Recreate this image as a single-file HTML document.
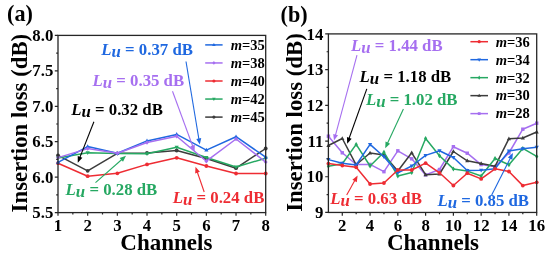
<!DOCTYPE html><html><head><meta charset="utf-8"><style>html,body{margin:0;padding:0;background:#fff;width:550px;height:257px;overflow:hidden}svg{display:block}text{font-family:"Liberation Serif","Times New Roman",serif;font-weight:bold}.t{font-size:16.8px}.lab{font-size:23px}.ylab{font-size:22.8px}.pl{font-size:22.2px}.an{font-size:16.8px}.lg{font-size:14.5px}.it{font-style:italic}</style></head><body>
<svg width="550" height="257" viewBox="0 0 550 257">
<rect width="550" height="257" fill="#fff"/>
<polyline points="58.00,155.30 87.67,170.80 117.34,153.30 147.01,153.00 176.69,150.50 206.36,158.50 236.03,168.20 265.70,148.50" fill="none" stroke="#3c3c3c" stroke-width="1.5" stroke-linejoin="round"/>
<circle cx="58.00" cy="155.30" r="1.90" fill="#3c3c3c"/>
<circle cx="87.67" cy="170.80" r="1.90" fill="#3c3c3c"/>
<circle cx="117.34" cy="153.30" r="1.90" fill="#3c3c3c"/>
<circle cx="147.01" cy="153.00" r="1.90" fill="#3c3c3c"/>
<circle cx="176.69" cy="150.50" r="1.90" fill="#3c3c3c"/>
<circle cx="206.36" cy="158.50" r="1.90" fill="#3c3c3c"/>
<circle cx="236.03" cy="168.20" r="1.90" fill="#3c3c3c"/>
<circle cx="265.70" cy="148.50" r="1.90" fill="#3c3c3c"/>
<polyline points="58.00,158.00 87.67,152.80 117.34,153.50 147.01,153.80 176.69,147.30 206.36,157.50 236.03,167.00 265.70,158.20" fill="none" stroke="#26a862" stroke-width="1.5" stroke-linejoin="round"/>
<path d="M58.00 160.30L60.10 156.50L55.90 156.50Z" fill="#26a862"/>
<path d="M87.67 155.10L89.77 151.30L85.57 151.30Z" fill="#26a862"/>
<path d="M117.34 155.80L119.44 152.00L115.24 152.00Z" fill="#26a862"/>
<path d="M147.01 156.10L149.11 152.30L144.91 152.30Z" fill="#26a862"/>
<path d="M176.69 149.60L178.79 145.80L174.59 145.80Z" fill="#26a862"/>
<path d="M206.36 159.80L208.46 156.00L204.26 156.00Z" fill="#26a862"/>
<path d="M236.03 169.30L238.13 165.50L233.93 165.50Z" fill="#26a862"/>
<path d="M265.70 160.50L267.80 156.70L263.60 156.70Z" fill="#26a862"/>
<polyline points="58.00,163.20 87.67,176.20 117.34,173.30 147.01,164.40 176.69,157.80 206.36,166.00 236.03,173.50 265.70,173.50" fill="none" stroke="#ee2c33" stroke-width="1.5" stroke-linejoin="round"/>
<circle cx="58.00" cy="163.20" r="1.90" fill="#ee2c33"/>
<circle cx="87.67" cy="176.20" r="1.90" fill="#ee2c33"/>
<circle cx="117.34" cy="173.30" r="1.90" fill="#ee2c33"/>
<circle cx="147.01" cy="164.40" r="1.90" fill="#ee2c33"/>
<circle cx="176.69" cy="157.80" r="1.90" fill="#ee2c33"/>
<circle cx="206.36" cy="166.00" r="1.90" fill="#ee2c33"/>
<circle cx="236.03" cy="173.50" r="1.90" fill="#ee2c33"/>
<circle cx="265.70" cy="173.50" r="1.90" fill="#ee2c33"/>
<polyline points="58.00,162.30 87.67,146.60 117.34,153.30 147.01,140.90 176.69,134.40 206.36,150.10 236.03,136.70 265.70,157.20" fill="none" stroke="#1f68e0" stroke-width="1.5" stroke-linejoin="round"/>
<path d="M58.00 160.00L60.10 163.80L55.90 163.80Z" fill="#1f68e0"/>
<path d="M87.67 144.30L89.77 148.10L85.57 148.10Z" fill="#1f68e0"/>
<path d="M117.34 151.00L119.44 154.80L115.24 154.80Z" fill="#1f68e0"/>
<path d="M147.01 138.60L149.11 142.40L144.91 142.40Z" fill="#1f68e0"/>
<path d="M176.69 132.10L178.79 135.90L174.59 135.90Z" fill="#1f68e0"/>
<path d="M206.36 147.80L208.46 151.60L204.26 151.60Z" fill="#1f68e0"/>
<path d="M236.03 134.40L238.13 138.20L233.93 138.20Z" fill="#1f68e0"/>
<path d="M265.70 154.90L267.80 158.70L263.60 158.70Z" fill="#1f68e0"/>
<polyline points="58.00,157.60 87.67,148.60 117.34,153.30 147.01,142.50 176.69,136.30 206.36,161.20 236.03,139.00 265.70,162.10" fill="none" stroke="#a66ff0" stroke-width="1.5" stroke-linejoin="round"/>
<path d="M58.00 155.40L59.90 157.60L58.00 159.80L56.10 157.60Z" fill="#a66ff0"/>
<path d="M87.67 146.40L89.57 148.60L87.67 150.80L85.77 148.60Z" fill="#a66ff0"/>
<path d="M117.34 151.10L119.24 153.30L117.34 155.50L115.44 153.30Z" fill="#a66ff0"/>
<path d="M147.01 140.30L148.91 142.50L147.01 144.70L145.11 142.50Z" fill="#a66ff0"/>
<path d="M176.69 134.10L178.59 136.30L176.69 138.50L174.79 136.30Z" fill="#a66ff0"/>
<path d="M206.36 159.00L208.26 161.20L206.36 163.40L204.46 161.20Z" fill="#a66ff0"/>
<path d="M236.03 136.80L237.93 139.00L236.03 141.20L234.13 139.00Z" fill="#a66ff0"/>
<path d="M265.70 159.90L267.60 162.10L265.70 164.30L263.80 162.10Z" fill="#a66ff0"/>
<rect x="58.0" y="35.4" width="207.70" height="177.20" fill="none" stroke="#262626" stroke-width="1.3"/>
<path d="M58.00 212.6v3.2M87.67 212.6v3.2M117.34 212.6v3.2M147.01 212.6v3.2M176.69 212.6v3.2M206.36 212.6v3.2M236.03 212.6v3.2M265.70 212.6v3.2M72.84 212.6v1.8M102.51 212.6v1.8M132.18 212.6v1.8M161.85 212.6v1.8M191.52 212.6v1.8M221.19 212.6v1.8M250.86 212.6v1.8M58.0 35.40h-3.2M58.0 70.84h-3.2M58.0 106.28h-3.2M58.0 141.72h-3.2M58.0 177.16h-3.2M58.0 212.60h-3.2M58.0 53.12h-1.8M58.0 88.56h-1.8M58.0 124.00h-1.8M58.0 159.44h-1.8M58.0 194.88h-1.8" stroke="#262626" stroke-width="1.2" fill="none"/>
<polyline points="328.40,136.20 342.29,152.80 356.17,164.50 370.06,164.40 383.95,171.70 397.83,150.80 411.72,158.80 425.61,174.90 439.49,169.50 453.38,146.70 467.27,153.20 481.15,164.60 495.04,166.80 508.93,153.00 522.81,129.20 536.70,123.20" fill="none" stroke="#a66ff0" stroke-width="1.5" stroke-linejoin="round"/>
<rect x="326.70" y="134.50" width="3.40" height="3.40" fill="#a66ff0"/>
<rect x="340.59" y="151.10" width="3.40" height="3.40" fill="#a66ff0"/>
<rect x="354.47" y="162.80" width="3.40" height="3.40" fill="#a66ff0"/>
<rect x="368.36" y="162.70" width="3.40" height="3.40" fill="#a66ff0"/>
<rect x="382.25" y="170.00" width="3.40" height="3.40" fill="#a66ff0"/>
<rect x="396.13" y="149.10" width="3.40" height="3.40" fill="#a66ff0"/>
<rect x="410.02" y="157.10" width="3.40" height="3.40" fill="#a66ff0"/>
<rect x="423.91" y="173.20" width="3.40" height="3.40" fill="#a66ff0"/>
<rect x="437.79" y="167.80" width="3.40" height="3.40" fill="#a66ff0"/>
<rect x="451.68" y="145.00" width="3.40" height="3.40" fill="#a66ff0"/>
<rect x="465.57" y="151.50" width="3.40" height="3.40" fill="#a66ff0"/>
<rect x="479.45" y="162.90" width="3.40" height="3.40" fill="#a66ff0"/>
<rect x="493.34" y="165.10" width="3.40" height="3.40" fill="#a66ff0"/>
<rect x="507.23" y="151.30" width="3.40" height="3.40" fill="#a66ff0"/>
<rect x="521.11" y="127.50" width="3.40" height="3.40" fill="#a66ff0"/>
<rect x="535.00" y="121.50" width="3.40" height="3.40" fill="#a66ff0"/>
<polyline points="328.40,145.50 342.29,138.50 356.17,164.80 370.06,153.00 383.95,155.00 397.83,171.00 411.72,152.80 425.61,174.70 439.49,174.00 453.38,151.50 467.27,160.80 481.15,163.60 495.04,166.30 508.93,138.70 522.81,138.00 536.70,132.00" fill="none" stroke="#3c3c3c" stroke-width="1.5" stroke-linejoin="round"/>
<path d="M328.40 143.20L330.50 147.00L326.30 147.00Z" fill="#3c3c3c"/>
<path d="M342.29 136.20L344.39 140.00L340.19 140.00Z" fill="#3c3c3c"/>
<path d="M356.17 162.50L358.27 166.30L354.07 166.30Z" fill="#3c3c3c"/>
<path d="M370.06 150.70L372.16 154.50L367.96 154.50Z" fill="#3c3c3c"/>
<path d="M383.95 152.70L386.05 156.50L381.85 156.50Z" fill="#3c3c3c"/>
<path d="M397.83 168.70L399.93 172.50L395.73 172.50Z" fill="#3c3c3c"/>
<path d="M411.72 150.50L413.82 154.30L409.62 154.30Z" fill="#3c3c3c"/>
<path d="M425.61 172.40L427.71 176.20L423.51 176.20Z" fill="#3c3c3c"/>
<path d="M439.49 171.70L441.59 175.50L437.39 175.50Z" fill="#3c3c3c"/>
<path d="M453.38 149.20L455.48 153.00L451.28 153.00Z" fill="#3c3c3c"/>
<path d="M467.27 158.50L469.37 162.30L465.17 162.30Z" fill="#3c3c3c"/>
<path d="M481.15 161.30L483.25 165.10L479.05 165.10Z" fill="#3c3c3c"/>
<path d="M495.04 164.00L497.14 167.80L492.94 167.80Z" fill="#3c3c3c"/>
<path d="M508.93 136.40L511.03 140.20L506.83 140.20Z" fill="#3c3c3c"/>
<path d="M522.81 135.70L524.91 139.50L520.71 139.50Z" fill="#3c3c3c"/>
<path d="M536.70 129.70L538.80 133.50L534.60 133.50Z" fill="#3c3c3c"/>
<polyline points="328.40,166.20 342.29,163.80 356.17,144.40 370.06,166.00 383.95,152.20 397.83,176.00 411.72,172.50 425.61,138.50 439.49,155.80 453.38,168.90 467.27,171.10 481.15,176.00 495.04,158.50 508.93,164.80 522.81,148.40 536.70,156.40" fill="none" stroke="#26a862" stroke-width="1.5" stroke-linejoin="round"/>
<path d="M328.40 163.70L330.00 166.20L328.40 168.70L326.80 166.20Z" fill="#26a862"/>
<path d="M342.29 161.30L343.89 163.80L342.29 166.30L340.69 163.80Z" fill="#26a862"/>
<path d="M356.17 141.90L357.77 144.40L356.17 146.90L354.57 144.40Z" fill="#26a862"/>
<path d="M370.06 163.50L371.66 166.00L370.06 168.50L368.46 166.00Z" fill="#26a862"/>
<path d="M383.95 149.70L385.55 152.20L383.95 154.70L382.35 152.20Z" fill="#26a862"/>
<path d="M397.83 173.50L399.43 176.00L397.83 178.50L396.23 176.00Z" fill="#26a862"/>
<path d="M411.72 170.00L413.32 172.50L411.72 175.00L410.12 172.50Z" fill="#26a862"/>
<path d="M425.61 136.00L427.21 138.50L425.61 141.00L424.01 138.50Z" fill="#26a862"/>
<path d="M439.49 153.30L441.09 155.80L439.49 158.30L437.89 155.80Z" fill="#26a862"/>
<path d="M453.38 166.40L454.98 168.90L453.38 171.40L451.78 168.90Z" fill="#26a862"/>
<path d="M467.27 168.60L468.87 171.10L467.27 173.60L465.67 171.10Z" fill="#26a862"/>
<path d="M481.15 173.50L482.75 176.00L481.15 178.50L479.55 176.00Z" fill="#26a862"/>
<path d="M495.04 156.00L496.64 158.50L495.04 161.00L493.44 158.50Z" fill="#26a862"/>
<path d="M508.93 162.30L510.53 164.80L508.93 167.30L507.33 164.80Z" fill="#26a862"/>
<path d="M522.81 145.90L524.41 148.40L522.81 150.90L521.21 148.40Z" fill="#26a862"/>
<path d="M536.70 153.90L538.30 156.40L536.70 158.90L535.10 156.40Z" fill="#26a862"/>
<polyline points="328.40,159.60 342.29,163.30 356.17,165.00 370.06,144.40 383.95,156.80 397.83,172.80 411.72,166.00 425.61,155.40 439.49,150.80 453.38,157.50 467.27,170.50 481.15,170.20 495.04,168.80 508.93,151.00 522.81,148.70 536.70,147.30" fill="none" stroke="#1f68e0" stroke-width="1.5" stroke-linejoin="round"/>
<path d="M328.40 161.90L330.50 158.10L326.30 158.10Z" fill="#1f68e0"/>
<path d="M342.29 165.60L344.39 161.80L340.19 161.80Z" fill="#1f68e0"/>
<path d="M356.17 167.30L358.27 163.50L354.07 163.50Z" fill="#1f68e0"/>
<path d="M370.06 146.70L372.16 142.90L367.96 142.90Z" fill="#1f68e0"/>
<path d="M383.95 159.10L386.05 155.30L381.85 155.30Z" fill="#1f68e0"/>
<path d="M397.83 175.10L399.93 171.30L395.73 171.30Z" fill="#1f68e0"/>
<path d="M411.72 168.30L413.82 164.50L409.62 164.50Z" fill="#1f68e0"/>
<path d="M425.61 157.70L427.71 153.90L423.51 153.90Z" fill="#1f68e0"/>
<path d="M439.49 153.10L441.59 149.30L437.39 149.30Z" fill="#1f68e0"/>
<path d="M453.38 159.80L455.48 156.00L451.28 156.00Z" fill="#1f68e0"/>
<path d="M467.27 172.80L469.37 169.00L465.17 169.00Z" fill="#1f68e0"/>
<path d="M481.15 172.50L483.25 168.70L479.05 168.70Z" fill="#1f68e0"/>
<path d="M495.04 171.10L497.14 167.30L492.94 167.30Z" fill="#1f68e0"/>
<path d="M508.93 153.30L511.03 149.50L506.83 149.50Z" fill="#1f68e0"/>
<path d="M522.81 151.00L524.91 147.20L520.71 147.20Z" fill="#1f68e0"/>
<path d="M536.70 149.60L538.80 145.80L534.60 145.80Z" fill="#1f68e0"/>
<polyline points="328.40,163.60 342.29,165.50 356.17,167.30 370.06,184.00 383.95,183.00 397.83,170.00 411.72,170.00 425.61,163.20 439.49,172.80 453.38,185.50 467.27,173.20 481.15,178.90 495.04,168.80 508.93,171.50 522.81,185.60 536.70,182.30" fill="none" stroke="#ee2c33" stroke-width="1.5" stroke-linejoin="round"/>
<circle cx="328.40" cy="163.60" r="1.90" fill="#ee2c33"/>
<circle cx="342.29" cy="165.50" r="1.90" fill="#ee2c33"/>
<circle cx="356.17" cy="167.30" r="1.90" fill="#ee2c33"/>
<circle cx="370.06" cy="184.00" r="1.90" fill="#ee2c33"/>
<circle cx="383.95" cy="183.00" r="1.90" fill="#ee2c33"/>
<circle cx="397.83" cy="170.00" r="1.90" fill="#ee2c33"/>
<circle cx="411.72" cy="170.00" r="1.90" fill="#ee2c33"/>
<circle cx="425.61" cy="163.20" r="1.90" fill="#ee2c33"/>
<circle cx="439.49" cy="172.80" r="1.90" fill="#ee2c33"/>
<circle cx="453.38" cy="185.50" r="1.90" fill="#ee2c33"/>
<circle cx="467.27" cy="173.20" r="1.90" fill="#ee2c33"/>
<circle cx="481.15" cy="178.90" r="1.90" fill="#ee2c33"/>
<circle cx="495.04" cy="168.80" r="1.90" fill="#ee2c33"/>
<circle cx="508.93" cy="171.50" r="1.90" fill="#ee2c33"/>
<circle cx="522.81" cy="185.60" r="1.90" fill="#ee2c33"/>
<circle cx="536.70" cy="182.30" r="1.90" fill="#ee2c33"/>
<rect x="328.4" y="33.9" width="208.30" height="178.55" fill="none" stroke="#262626" stroke-width="1.3"/>
<path d="M342.29 212.45v3.2M370.06 212.45v3.2M397.83 212.45v3.2M425.61 212.45v3.2M453.38 212.45v3.2M481.15 212.45v3.2M508.93 212.45v3.2M536.70 212.45v3.2M356.17 212.45v1.8M383.95 212.45v1.8M411.72 212.45v1.8M439.49 212.45v1.8M467.27 212.45v1.8M495.04 212.45v1.8M522.81 212.45v1.8M328.4 33.90h-3.2M328.4 69.61h-3.2M328.4 105.32h-3.2M328.4 141.03h-3.2M328.4 176.74h-3.2M328.4 212.45h-3.2M328.4 51.75h-1.8M328.4 87.47h-1.8M328.4 123.17h-1.8M328.4 158.88h-1.8M328.4 194.59h-1.8" stroke="#262626" stroke-width="1.2" fill="none"/>
<text class="t" x="53.3" y="41.00" text-anchor="end">8.0</text>
<text class="t" x="53.3" y="76.44" text-anchor="end">7.5</text>
<text class="t" x="53.3" y="111.88" text-anchor="end">7.0</text>
<text class="t" x="53.3" y="147.32" text-anchor="end">6.5</text>
<text class="t" x="53.3" y="182.76" text-anchor="end">6.0</text>
<text class="t" x="53.3" y="218.20" text-anchor="end">5.5</text>
<text class="t" x="58.00" y="230.6" text-anchor="middle">1</text>
<text class="t" x="87.67" y="230.6" text-anchor="middle">2</text>
<text class="t" x="117.34" y="230.6" text-anchor="middle">3</text>
<text class="t" x="147.01" y="230.6" text-anchor="middle">4</text>
<text class="t" x="176.69" y="230.6" text-anchor="middle">5</text>
<text class="t" x="206.36" y="230.6" text-anchor="middle">6</text>
<text class="t" x="236.03" y="230.6" text-anchor="middle">7</text>
<text class="t" x="265.70" y="230.6" text-anchor="middle">8</text>
<text class="t" x="323.4" y="39.50" text-anchor="end">14</text>
<text class="t" x="323.4" y="75.21" text-anchor="end">13</text>
<text class="t" x="323.4" y="110.92" text-anchor="end">12</text>
<text class="t" x="323.4" y="146.63" text-anchor="end">11</text>
<text class="t" x="323.4" y="182.34" text-anchor="end">10</text>
<text class="t" x="323.4" y="218.05" text-anchor="end">9</text>
<text class="t" x="342.29" y="230.6" text-anchor="middle">2</text>
<text class="t" x="370.06" y="230.6" text-anchor="middle">4</text>
<text class="t" x="397.83" y="230.6" text-anchor="middle">6</text>
<text class="t" x="425.61" y="230.6" text-anchor="middle">8</text>
<text class="t" x="453.38" y="230.6" text-anchor="middle">10</text>
<text class="t" x="481.15" y="230.6" text-anchor="middle">12</text>
<text class="t" x="508.93" y="230.6" text-anchor="middle">14</text>
<text class="t" x="536.70" y="230.6" text-anchor="middle">16</text>
<text class="lab" x="166.35" y="250" text-anchor="middle">Channels</text>
<text class="lab" x="433" y="250" text-anchor="middle">Channels</text>
<text class="ylab" transform="translate(26.8,123.1) rotate(-90)" text-anchor="middle">Insertion loss (dB)</text>
<text class="ylab" transform="translate(301.6,122.5) rotate(-90)" text-anchor="middle">Insertion loss (dB)</text>
<text class="pl" x="7" y="20.8">(a)</text>
<text class="pl" x="280.5" y="21.8">(b)</text>
<line x1="205.2" y1="44.9" x2="222.6" y2="44.9" stroke="#1f68e0" stroke-width="1.5"/>
<path d="M213.90 42.90L215.70 46.10L212.10 46.10Z" fill="#1f68e0"/>
<text class="lg" x="230.8" y="49.60"><tspan class="it">m</tspan>=35</text>
<line x1="205.2" y1="62.95" x2="222.6" y2="62.95" stroke="#a66ff0" stroke-width="1.5"/>
<path d="M213.90 61.05L215.50 62.95L213.90 64.85L212.30 62.95Z" fill="#a66ff0"/>
<text class="lg" x="230.8" y="67.65"><tspan class="it">m</tspan>=38</text>
<line x1="205.2" y1="81.0" x2="222.6" y2="81.0" stroke="#ee2c33" stroke-width="1.5"/>
<circle cx="213.90" cy="81.00" r="1.60" fill="#ee2c33"/>
<text class="lg" x="230.8" y="85.70"><tspan class="it">m</tspan>=40</text>
<line x1="205.2" y1="99.05000000000001" x2="222.6" y2="99.05000000000001" stroke="#26a862" stroke-width="1.5"/>
<path d="M213.90 101.05L215.70 97.85L212.10 97.85Z" fill="#26a862"/>
<text class="lg" x="230.8" y="103.75"><tspan class="it">m</tspan>=42</text>
<line x1="205.2" y1="117.1" x2="222.6" y2="117.1" stroke="#3c3c3c" stroke-width="1.5"/>
<circle cx="213.90" cy="117.10" r="1.60" fill="#3c3c3c"/>
<text class="lg" x="230.8" y="121.80"><tspan class="it">m</tspan>=45</text>
<line x1="470.4" y1="41.7" x2="488.0" y2="41.7" stroke="#ee2c33" stroke-width="1.5"/>
<circle cx="479.20" cy="41.70" r="1.60" fill="#ee2c33"/>
<text class="lg" x="495.8" y="46.60"><tspan class="it">m</tspan>=36</text>
<line x1="470.4" y1="59.68000000000001" x2="488.0" y2="59.68000000000001" stroke="#1f68e0" stroke-width="1.5"/>
<path d="M479.20 61.68L481.00 58.48L477.40 58.48Z" fill="#1f68e0"/>
<text class="lg" x="495.8" y="64.55"><tspan class="it">m</tspan>=34</text>
<line x1="470.4" y1="77.66" x2="488.0" y2="77.66" stroke="#26a862" stroke-width="1.5"/>
<path d="M479.20 75.46L480.50 77.66L479.20 79.86L477.90 77.66Z" fill="#26a862"/>
<text class="lg" x="495.8" y="82.50"><tspan class="it">m</tspan>=32</text>
<line x1="470.4" y1="95.64" x2="488.0" y2="95.64" stroke="#3c3c3c" stroke-width="1.5"/>
<path d="M479.20 93.64L481.00 96.84L477.40 96.84Z" fill="#3c3c3c"/>
<text class="lg" x="495.8" y="100.45"><tspan class="it">m</tspan>=30</text>
<line x1="470.4" y1="113.62" x2="488.0" y2="113.62" stroke="#a66ff0" stroke-width="1.5"/>
<rect x="477.80" y="112.22" width="2.80" height="2.80" fill="#a66ff0"/>
<text class="lg" x="495.8" y="118.40"><tspan class="it">m</tspan>=28</text>
<text class="an" x="101.30" y="55.10" fill="#1f68e0"><tspan class="it">L</tspan><tspan class="it" dy="2.2">u</tspan><tspan dy="-2.2"> = 0.37 dB</tspan></text>
<text class="an" x="92.50" y="85.90" fill="#a66ff0"><tspan class="it">L</tspan><tspan class="it" dy="2.2">u</tspan><tspan dy="-2.2"> = 0.35 dB</tspan></text>
<text class="an" x="71.20" y="114.50" fill="#000"><tspan class="it">L</tspan><tspan class="it" dy="2.2">u</tspan><tspan dy="-2.2"> = 0.32 dB</tspan></text>
<text class="an" x="65.60" y="195.00" fill="#26a862"><tspan class="it">L</tspan><tspan class="it" dy="2.2">u</tspan><tspan dy="-2.2"> = 0.28 dB</tspan></text>
<text class="an" x="172.70" y="203.10" fill="#ee2c33"><tspan class="it">L</tspan><tspan class="it" dy="2.2">u</tspan><tspan dy="-2.2"> = 0.24 dB</tspan></text>
<line x1="186.00" y1="61.50" x2="198.95" y2="139.47" stroke="#1f68e0" stroke-width="1.1"/>
<path d="M199.80 144.60L196.32 138.89L201.25 138.07Z" fill="#1f68e0"/>
<line x1="172.50" y1="91.30" x2="192.81" y2="146.52" stroke="#a66ff0" stroke-width="1.1"/>
<path d="M194.60 151.40L190.11 146.44L194.81 144.72Z" fill="#a66ff0"/>
<line x1="93.90" y1="121.80" x2="79.70" y2="157.86" stroke="#000" stroke-width="1.1"/>
<path d="M77.80 162.70L77.74 156.02L82.40 157.85Z" fill="#000"/>
<line x1="95.50" y1="182.70" x2="122.10" y2="159.24" stroke="#26a862" stroke-width="1.1"/>
<path d="M126.00 155.80L123.00 161.78L119.70 158.03Z" fill="#26a862"/>
<line x1="204.20" y1="192.00" x2="197.20" y2="171.72" stroke="#ee2c33" stroke-width="1.1"/>
<path d="M195.50 166.80L199.89 171.84L195.16 173.48Z" fill="#ee2c33"/>
<text class="an" x="351.00" y="51.10" fill="#a66ff0"><tspan class="it">L</tspan><tspan class="it" dy="2.2">u</tspan><tspan dy="-2.2"> = 1.44 dB</tspan></text>
<text class="an" x="359.60" y="81.60" fill="#000"><tspan class="it">L</tspan><tspan class="it" dy="2.2">u</tspan><tspan dy="-2.2"> = 1.18 dB</tspan></text>
<text class="an" x="365.90" y="105.00" fill="#26a862"><tspan class="it">L</tspan><tspan class="it" dy="2.2">u</tspan><tspan dy="-2.2"> = 1.02 dB</tspan></text>
<text class="an" x="330.20" y="203.80" fill="#ee2c33"><tspan class="it">L</tspan><tspan class="it" dy="2.2">u</tspan><tspan dy="-2.2"> = 0.63 dB</tspan></text>
<text class="an" x="437.40" y="205.50" fill="#1f68e0"><tspan class="it">L</tspan><tspan class="it" dy="2.2">u</tspan><tspan dy="-2.2"> = 0.85 dB</tspan></text>
<line x1="357.00" y1="55.10" x2="335.35" y2="135.58" stroke="#a66ff0" stroke-width="1.1"/>
<path d="M334.00 140.60L333.20 133.96L338.02 135.26Z" fill="#a66ff0"/>
<line x1="366.80" y1="88.90" x2="348.95" y2="138.80" stroke="#000" stroke-width="1.1"/>
<path d="M347.20 143.70L346.93 137.02L351.64 138.70Z" fill="#000"/>
<line x1="403.40" y1="109.00" x2="387.39" y2="143.58" stroke="#26a862" stroke-width="1.1"/>
<path d="M385.20 148.30L385.54 141.62L390.07 143.72Z" fill="#26a862"/>
<line x1="346.70" y1="195.10" x2="355.07" y2="180.04" stroke="#ee2c33" stroke-width="1.1"/>
<path d="M357.60 175.50L356.77 182.13L352.40 179.70Z" fill="#ee2c33"/>
<line x1="491.70" y1="195.10" x2="510.56" y2="157.64" stroke="#1f68e0" stroke-width="1.1"/>
<path d="M512.90 153.00L512.34 159.66L507.88 157.41Z" fill="#1f68e0"/>
</svg></body></html>
